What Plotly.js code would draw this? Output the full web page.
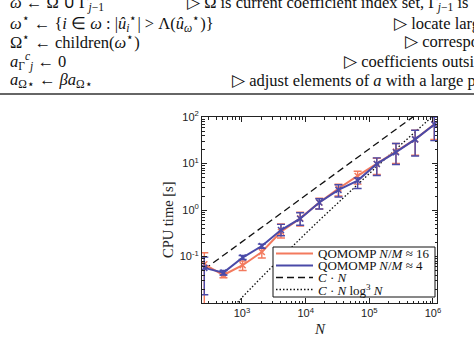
<!DOCTYPE html>
<html>
<head>
<meta charset="utf-8">
<script src="https://cdn.plot.ly/plotly-3.0.1.min.js"></script>
<style>
html,body{margin:0;padding:0;background:#fff;}
#chart{width:474px;height:356px;}
</style>
</head>
<body>
<div id="chart"></div>
<script>
// ---- data ----
const N = [256, 512, 1024, 2048, 4096, 8192, 16384, 32768, 65536, 131072, 262144, 524288, 1048576];
const qomomp16 = [0.068, 0.040, 0.065, 0.125, 0.34, 0.66, 1.45, 2.9, 5.4, 9.8, 18, 33, 70];
const qomomp16Hi = [0.12, 0.045, 0.08, 0.15, 0.50, 0.90, 1.80, 3.6, 6.8, 13, 27, 52, 105];
const qomomp16Lo = [0.009, 0.035, 0.05, 0.093, 0.25, 0.45, 1.05, 2.0, 3.6, 5.8, 10, 15, 33];
const qomomp4 = [0.057, 0.045, 0.095, 0.168, 0.37, 0.65, 1.45, 2.7, 4.3, 9.8, 17.5, 33, 69];
const qomomp4Hi = [0.097, 0.05, 0.105, 0.185, 0.49, 0.87, 1.74, 3.5, 4.9, 13.2, 27, 52, 100];
const qomomp4Lo = [0.015, 0.04, 0.086, 0.15, 0.28, 0.47, 1.05, 1.9, 2.9, 5.5, 9.5, 14.5, 31];
const refCN = [0.053, 0.106, 0.212, 0.424, 0.848, 1.70, 3.39, 6.78, 13.6, 27.1, 54.3, 108.5, 217];
const refCNlog3 = [0.00175, 0.00497, 0.0136, 0.0363, 0.0943, 0.240, 0.599, 1.47, 3.58, 8.58, 20.4, 47.9, 112];

const xTickVals = [1e3, 1e4, 1e5, 1e6];
const xTickText = ['10<sup>3</sup>', '10<sup>4</sup>', '10<sup>5</sup>', '10<sup>6</sup>'];
const yTickVals = [0.1, 1, 10, 100];
const yTickText = ['10<sup>-1</sup>', '10<sup>0</sup>', '10<sup>1</sup>', '10<sup>2</sup>'];
const xTitle = '<i>N</i>';
const yTitle = 'CPU time [s]';

const legendLabels = [
  'QOMOMP <i>N</i>/<i>M</i> ≈ 16',
  'QOMOMP <i>N</i>/<i>M</i> ≈ 4',
  '<i>C</i> · <i>N</i>',
  '<i>C</i> · <i>N</i> log<sup>3</sup> <i>N</i>'
];

const algLeft = [
  '<i>ω</i> ← Ω ∪ Γ<sub><i>j</i>−1</sub>',
  '<i>ω</i><sup>⋆</sup> ← {<i>i</i> ∈ <i>ω</i> : |<i>û</i><sub><i>i</i></sub><sup>⋆</sup>| > Λ(<i>û</i><sub><i>ω</i></sub><sup>⋆</sup>)}',
  'Ω<sup>⋆</sup> ← children(<i>ω</i><sup>⋆</sup>)',
  '<i>a</i><sub>Γ</sub><sup><i>c</i></sup><sub><i>j</i></sub> ← 0',
  '<i>a</i><sub>Ω⋆</sub> ← <i>βa</i><sub>Ω⋆</sub>'
];
const algRight = [
  '▷ Ω is current coefficient index set, Γ<sub><i>j</i>−1</sub> is',
  '▷ locate large coefficients',
  '▷ corresponding',
  '▷ coefficients outside',
  '▷ adjust elements of <i>a</i> with a large portion'
];

// ---- layout geometry (pixels) ----
const W = 474, H = 356;
const M = {l: 202, r: 37, t: 117, b: 53};
const PW = W - M.l - M.r, PH = H - M.t - M.b;
const px = x => (x - M.l) / PW;
const py = y => (H - M.b - y) / PH;

const RED = '#F37A5E', BLUE = '#4A4AA8';
const SERIF = 'Liberation Serif, Times New Roman, serif';

function minorVals(lo, hi) {
  const v = [];
  for (let e = lo; e < hi; e++) for (let d = 2; d <= 9; d++) v.push(d * Math.pow(10, e));
  return v;
}
const diff = (a, b) => a.map((v, i) => v - b[i]);

const traces = [
  {x: N, y: refCN, mode: 'lines', line: {color: '#111', width: 1.3, dash: '7px,4px'}, hoverinfo: 'skip'},
  {x: N, y: refCNlog3, mode: 'lines', line: {color: '#111', width: 1.3, dash: '1.5px,2px'}, hoverinfo: 'skip'},
  {x: N, y: qomomp16, mode: 'lines+markers',
   line: {color: RED, width: 2}, marker: {symbol: 'x-thin-open', size: 6, line: {color: RED, width: 1.5}},
   error_y: {type: 'data', symmetric: false, array: diff(qomomp16Hi, qomomp16), arrayminus: diff(qomomp16, qomomp16Lo),
             color: RED, thickness: 1.4, width: 4}},
  {x: N, y: qomomp4, mode: 'lines+markers',
   line: {color: BLUE, width: 2}, marker: {symbol: 'x-thin-open', size: 6, line: {color: BLUE, width: 1.5}},
   error_y: {type: 'data', symmetric: false, array: diff(qomomp4Hi, qomomp4), arrayminus: diff(qomomp4, qomomp4Lo),
             color: BLUE, thickness: 1.4, width: 4}}
];

const axisCommon = {
  type: 'log', showgrid: false, zeroline: false, showline: true, linecolor: '#222', linewidth: 1,
  mirror: 'allticks', ticks: 'inside', ticklen: 5, tickcolor: '#222', tickwidth: 1,
  tickmode: 'array', tickfont: {family: 'Liberation Sans, Arial, sans-serif', size: 11, color: '#222'}
};

const shapes = [
  {type: 'line', xref: 'paper', yref: 'paper', x0: px(0), x1: px(W), y0: py(94), y1: py(94), line: {color: '#333', width: 1.5}},
  {type: 'rect', xref: 'paper', yref: 'paper', x0: px(273), x1: px(435), y0: py(297), y1: py(247),
   line: {color: '#111', width: 1}, fillcolor: '#fff'}
];
const legendY = [253.5, 265.5, 277.5, 289.5];
const legendStyle = [
  {color: RED, width: 2, dash: 'solid'},
  {color: BLUE, width: 2, dash: 'solid'},
  {color: '#111', width: 1.3, dash: '7px,4px'},
  {color: '#111', width: 1.3, dash: '1.5px,2px'}
];
const annotations = [];
legendLabels.forEach((t, i) => {
  shapes.push({type: 'line', xref: 'paper', yref: 'paper', x0: px(276), x1: px(313), y0: py(legendY[i]), y1: py(legendY[i]), line: legendStyle[i]});
  annotations.push({xref: 'paper', yref: 'paper', x: px(316), y: py(legendY[i]), xanchor: 'left', yanchor: 'middle',
    text: t, showarrow: false, font: {family: SERIF, size: 13, color: '#111'}});
});
const algY = [3.5, 23, 42, 61, 80];
const algRightX = [185, 392, 403, 342, 230];
algLeft.forEach((t, i) => {
  annotations.push({xref: 'paper', yref: 'paper', x: px(8), y: py(algY[i]), xanchor: 'left', yanchor: 'middle',
    text: t, showarrow: false, font: {family: SERIF, size: 16.5, color: '#111'}});
  annotations.push({xref: 'paper', yref: 'paper', x: px(algRightX[i]), y: py(algY[i]), xanchor: 'left', yanchor: 'middle',
    text: algRight[i], showarrow: false, font: {family: SERIF, size: 16.5, color: '#111'}});
});
// axis titles
annotations.push({xref: 'paper', yref: 'paper', x: px(168), y: py(220), xanchor: 'center', yanchor: 'middle', textangle: -90,
  text: yTitle, showarrow: false, font: {family: SERIF, size: 14.5, color: '#222'}});
annotations.push({xref: 'paper', yref: 'paper', x: px(320), y: py(329), xanchor: 'center', yanchor: 'middle',
  text: xTitle, showarrow: false, font: {family: SERIF, size: 15, color: '#222'}});

const layout = {
  width: W, height: H, margin: M, showlegend: false,
  paper_bgcolor: '#fff', plot_bgcolor: '#fff',
  xaxis: Object.assign({}, axisCommon, {
    range: [2.372, 6.063], tickvals: xTickVals, ticktext: xTickText,
    minor: {tickmode: 'array', tickvals: minorVals(2, 6), ticks: 'inside', ticklen: 2.5, tickcolor: '#222', showgrid: false}
  }),
  yaxis: Object.assign({}, axisCommon, {
    range: [-2, 2], tickvals: yTickVals, ticktext: yTickText,
    minor: {tickmode: 'array', tickvals: minorVals(-2, 2), ticks: 'inside', ticklen: 2.5, tickcolor: '#222', showgrid: false}
  }),
  shapes: shapes,
  annotations: annotations
};

Plotly.newPlot('chart', traces, layout, {displayModeBar: false, staticPlot: true});
</script>
</body>
</html>
